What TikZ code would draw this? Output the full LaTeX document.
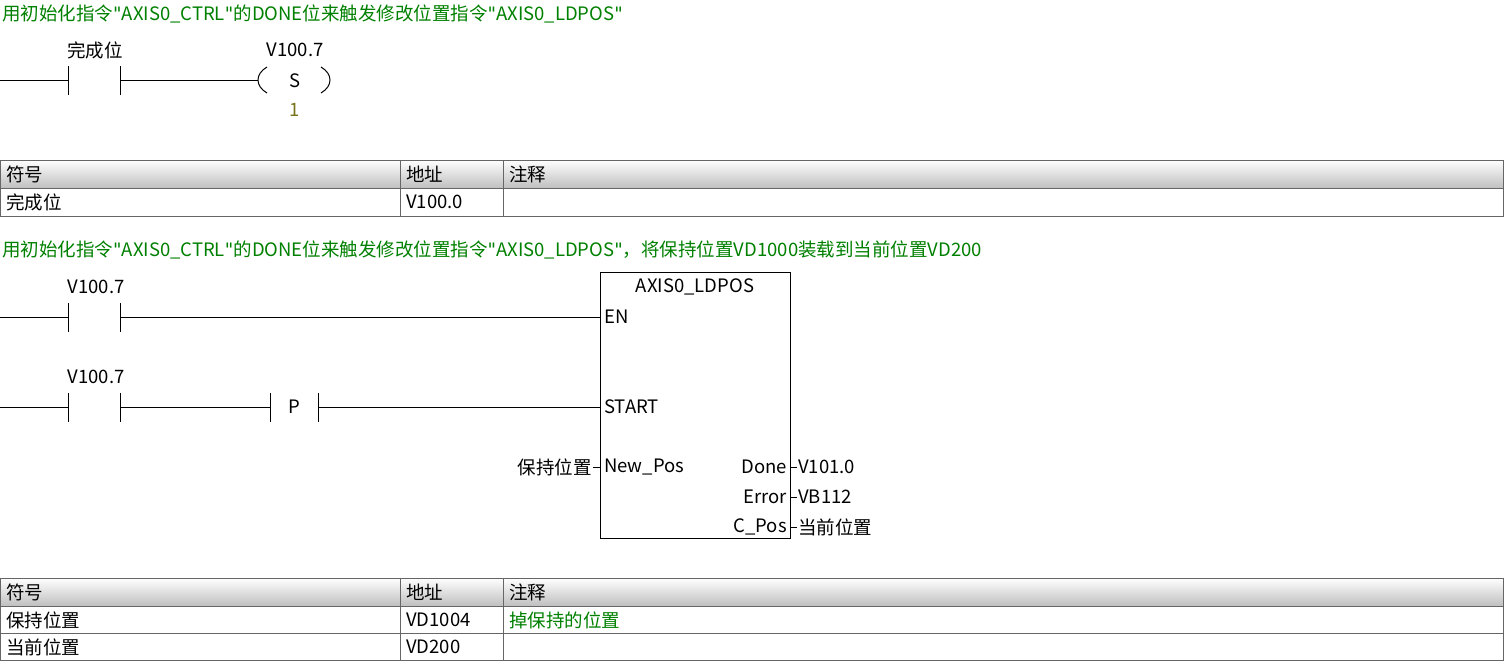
\documentclass[tikz,border=0pt]{standalone}
\usepackage{fontspec}
\setmainfont{Noto Sans CJK SC}[Ligatures=NoCommon]
\newfontfamily\latf{DejaVu Sans}[Mapping=]
\newcommand\qq{{\latf\char34}}
\begin{document}
\begin{tikzpicture}[x=1pt,y=-1pt,
  txt/.style={inner sep=0pt,font=\fontsize{18.5}{19}\selectfont},
  cmt/.style={txt,anchor=west,text=green!50!black},
  ln/.style={line width=1pt},
  hdr/.style={draw=black!60,top color=white,bottom color=black!25},
  cell/.style={draw=black!60}]
\useasboundingbox (0,0) rectangle (1511,670);
% network 1
\node[cmt] (c1) at (2,14) {用初始化指令\qq AXIS0\_CTRL\qq 的DONE位来触发修改位置指令\qq AXIS0\_LDPOS\qq};
\coordinate (l1) at (0,80);
\coordinate (k1a) at (68,80); \coordinate (k1b) at (120,80);
\coordinate (s1a) at (258,80);
\draw[ln] (l1) -- (k1a) (k1b) -- (s1a);
\draw[ln] (68,66) -- (68,95) (120,66) -- (120,95);
\draw[ln] (267,67) .. controls (255,74) and (255,86) .. (267,93);
\draw[ln] (321,67) .. controls (333,74) and (333,86) .. (321,93);
\node[txt] (cl1) at (95,50) {完成位};
\node[txt] (sl1) at (295,50) {V100.7};
\node[txt] (s1) at (295,81) {S};
\node[txt,text=olive!80!black] (one) at (295,110) {1};
% table 1
\draw[hdr] (0,160) rectangle (1503,188);
\draw[cell] (0,188) rectangle (1503,216);
\draw[black!60] (400,160) -- (400,216) (503,160) -- (503,216);
\node[txt,anchor=west] (t1a) at (6,174) {符号};
\node[txt,anchor=west] (t1b) at (406,174) {地址};
\node[txt,anchor=west] (t1c) at (509,174) {注释};
\node[txt,anchor=west] (t1d) at (6,202) {完成位};
\node[txt,anchor=west] (t1e) at (406,202) {V100.0};
% network 2
\node[cmt] (c2) at (2,250) {用初始化指令\qq AXIS0\_CTRL\qq 的DONE位来触发修改位置指令\qq AXIS0\_LDPOS\qq ，将保持位置VD1000装载到当前位置VD200};
\node[draw,ln,minimum width=190pt,minimum height=266pt,anchor=north west,inner sep=0pt] (box) at (600,272) {};
\node[txt] (bt) at (695,287) {AXIS0\_LDPOS};
\node[txt,anchor=west] (en) at (604,317) {EN};
\node[txt,anchor=west] (st) at (604,407) {START};
\node[txt,anchor=west] (np) at (604,467) {New\_Pos};
\node[txt,anchor=east] (dn) at (787,467) {Done};
\node[txt,anchor=east] (er) at (787,497) {Error};
\node[txt,anchor=east] (cp) at (787,527) {C\_Pos};
% rung EN
\draw[ln] (0,317) -- (68,317) (120,317) -- (600,317);
\draw[ln] (68,303) -- (68,332) (120,303) -- (120,332);
\node[txt] (v1) at (96,287) {V100.7};
% rung START
\draw[ln] (0,407) -- (68,407) (120,407) -- (270,407) (318,407) -- (600,407);
\draw[ln] (68,393) -- (68,422) (120,393) -- (120,422);
\draw[ln] (270,393) -- (270,422) (318,393) -- (318,422);
\node[txt] (v2) at (96,377) {V100.7};
\node[txt] (p) at (294,407) {P};
% io
\draw (593,467) -- (600,467);
\node[txt,anchor=east] (in1) at (592,467) {保持位置};
\draw (790,467) -- (797,467) (790,497) -- (797,497) (790,527) -- (797,527);
\node[txt,anchor=west] (o1) at (798,467) {V101.0};
\node[txt,anchor=west] (o2) at (798,497) {VB112};
\node[txt,anchor=west] (o3) at (798,527) {当前位置};
% table 2
\draw[hdr] (0,578) rectangle (1503,606);
\draw[cell] (0,606) rectangle (1503,633);
\draw[cell] (0,633) rectangle (1503,660);
\draw[black!60] (400,578) -- (400,660) (503,578) -- (503,660);
\node[txt,anchor=west] (h1) at (6,592) {符号};
\node[txt,anchor=west] (h2) at (406,592) {地址};
\node[txt,anchor=west] (h3) at (509,592) {注释};
\node[txt,anchor=west] (r1a) at (6,620) {保持位置};
\node[txt,anchor=west] (r1b) at (406,620) {VD1004};
\node[txt,anchor=west,text=green!50!black] (r1c) at (509,620) {掉保持的位置};
\node[txt,anchor=west] (r2a) at (6,647) {当前位置};
\node[txt,anchor=west] (r2b) at (406,647) {VD200};
\end{tikzpicture}
\end{document}
